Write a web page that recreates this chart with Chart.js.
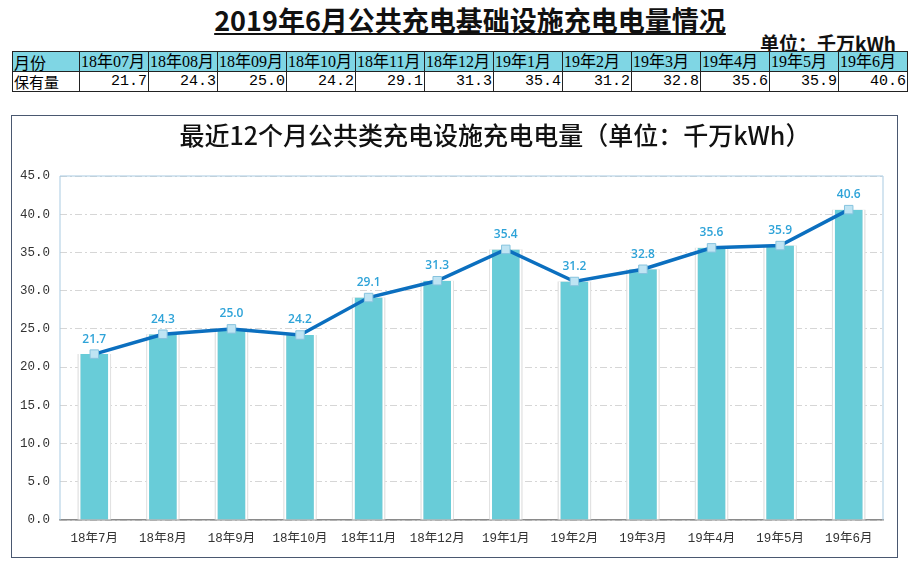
<!DOCTYPE html>
<html>
<head>
<meta charset="utf-8">
<script src="https://cdn.jsdelivr.net/npm/chart.js@4/dist/chart.umd.min.js"></script>
<style>
  body { margin: 0; background: #fff; width: 911px; height: 568px; position: relative; overflow: hidden;
         font-family: "Noto Sans CJK SC", sans-serif; }
  #title { position: absolute; left: 0; top: 2px; width: 940px; text-align: center;
           font-size: 27px; font-weight: bold; text-decoration: underline; color: #111; line-height: 36px; }
  #unit { position: absolute; right: 15px; top: 29px; font-size: 19px; font-weight: bold; color: #111; }
  table { position: absolute; left: 12px; top: 51px; border-collapse: collapse; table-layout: fixed; }
  td { border: 1px solid #222; height: 19px; padding: 0 1px; font-size: 16px; line-height: 18px; white-space: nowrap; overflow: hidden; }
  tr.head td { background: #7fd6e4; font-family: "Liberation Serif", "Noto Sans CJK SC", serif; }
  tr.vals td { text-align: right; font-family: "Liberation Mono", "Noto Sans CJK SC", monospace; font-size: 15px; }
  td.first { font-family: "Noto Sans CJK SC", sans-serif !important; text-align: left !important; }
  #box { position: absolute; left: 11px; top: 115px; width: 887px; height: 443px; box-sizing: border-box;
         border: 1.5px solid #4a5870; }
</style>
</head>
<body>
<div id="title">2019年6月公共充电基础设施充电电量情况</div>
<div id="unit">单位：千万kWh</div>
<table id="tbl"></table>
<div id="box"><canvas id="chart"></canvas></div>
<script>
// données
const tableMonths = ['18年07月', '18年08月', '18年09月', '18年10月', '18年11月', '18年12月',
                     '19年1月', '19年2月', '19年3月', '19年4月', '19年5月', '19年6月'];
const months = ['18年7月', '18年8月', '18年9月', '18年10月', '18年11月', '18年12月',
                '19年1月', '19年2月', '19年3月', '19年4月', '19年5月', '19年6月'];
const energy = [21.7, 24.3, 25.0, 24.2, 29.1, 31.3, 35.4, 31.2, 32.8, 35.6, 35.9, 40.6];
const yTicks = [0, 5, 10, 15, 20, 25, 30, 35, 40, 45];

// tableau du haut
const tbl = document.getElementById('tbl');
let headRow = '<tr class="head"><td class="first" style="width:64px">月份</td>';
let valRow = '<tr class="vals"><td class="first">保有量</td>';
tableMonths.forEach(function(m, i) {
    headRow += '<td style="width:66px">' + m + '</td>';
    valRow += '<td>' + energy[i].toFixed(1) + '</td>';
});
tbl.innerHTML = headRow + '</tr>' + valRow + '</tr>';

// titre + cadre de la zone de tracé
const decorPlugin = {
    id: 'decor',
    beforeDatasetsDraw(chart) {
        const a = chart.chartArea, ctx = chart.ctx;
        ctx.save();
        ctx.strokeStyle = '#a9cbe2';
        ctx.lineWidth = 1;
        ctx.beginPath();
        ctx.moveTo(a.left, a.bottom);
        ctx.lineTo(a.left, a.top);
        ctx.lineTo(a.right, a.top);
        ctx.lineTo(a.right, a.bottom);
        ctx.stroke();
        ctx.restore();
    },
    afterDraw(chart) {
        const ctx = chart.ctx;
        ctx.save();
        ctx.fillStyle = '#111';
        ctx.font = '500 25px "Noto Sans CJK SC"';
        ctx.textAlign = 'center';
        ctx.textBaseline = 'middle';
        ctx.fillText('最近12个月公共类充电设施充电电量（单位：千万kWh）', 483, 19);
        ctx.restore();
    }
};

// étiquettes des valeurs au-dessus des points
const labelPlugin = {
    id: 'valueLabels',
    afterDatasetsDraw(chart) {
        const meta = chart.getDatasetMeta(0);
        const ctx = chart.ctx;
        ctx.save();
        ctx.fillStyle = '#2ea3d8';
        ctx.font = '600 12px "Open Sans"';
        ctx.textAlign = 'center';
        ctx.textBaseline = 'bottom';
        meta.data.forEach(function(pt, i) {
            ctx.fillText(energy[i].toFixed(1), pt.x, pt.y - 9);
        });
        ctx.restore();
    }
};

new Chart(document.getElementById('chart'), {
    type: 'bar',
    data: {
        labels: months,
        datasets: [{
            type: 'line',
            data: energy,
            borderColor: '#0b6fbf',
            borderWidth: 3.5,
            tension: 0,
            pointStyle: 'rect',
            pointRadius: 6,
            pointBackgroundColor: '#bfe4f3',
            pointBorderColor: '#86c3de',
            pointBorderWidth: 1,
            order: 0
        }, {
            data: energy,
            backgroundColor: '#68ccd8',
            borderColor: '#ffffff',
            borderWidth: { left: 2, right: 2, top: 0, bottom: 0 },
            borderSkipped: false,
            barPercentage: 0.46,
            categoryPercentage: 1,
            grouped: false,
            order: 1
        }, {
            data: energy,
            backgroundColor: '#e2e2e2',
            barPercentage: 0.49,
            categoryPercentage: 1,
            grouped: false,
            order: 2
        }]
    },
    options: {
        responsive: true,
        maintainAspectRatio: false,
        animation: false,
        layout: { padding: { top: 60, right: 14, left: 0, bottom: 0 } },
        plugins: {
            legend: { display: false },
            tooltip: { enabled: false }
        },
        scales: {
            x: {
                grid: { display: false, drawTicks: false },
                border: { color: '#8a8a8a', width: 1.5 },
                ticks: {
                    color: '#333',
                    padding: 11,
                    maxRotation: 0,
                    font: { size: 12.5, family: '"Liberation Mono", "Noto Sans CJK SC"' }
                },
                afterFit(scale) { scale.height = 37; }
            },
            y: {
                min: 0,
                max: 45,
                afterBuildTicks(scale) { scale.ticks = yTicks.map(v => ({ value: v })); },
                grid: { color: '#d6d6d6', drawTicks: false },
                border: { display: false, dash: [7, 3, 2, 3] },
                ticks: {
                    color: '#333',
                    padding: 10,
                    font: { size: 12.5, family: '"Liberation Mono", monospace' },
                    callback: function(v) { return v.toFixed(1); }
                },
                afterFit(scale) { scale.width = 48; }
            }
        }
    },
    plugins: [decorPlugin, labelPlugin]
});
</script>
</body>
</html>
